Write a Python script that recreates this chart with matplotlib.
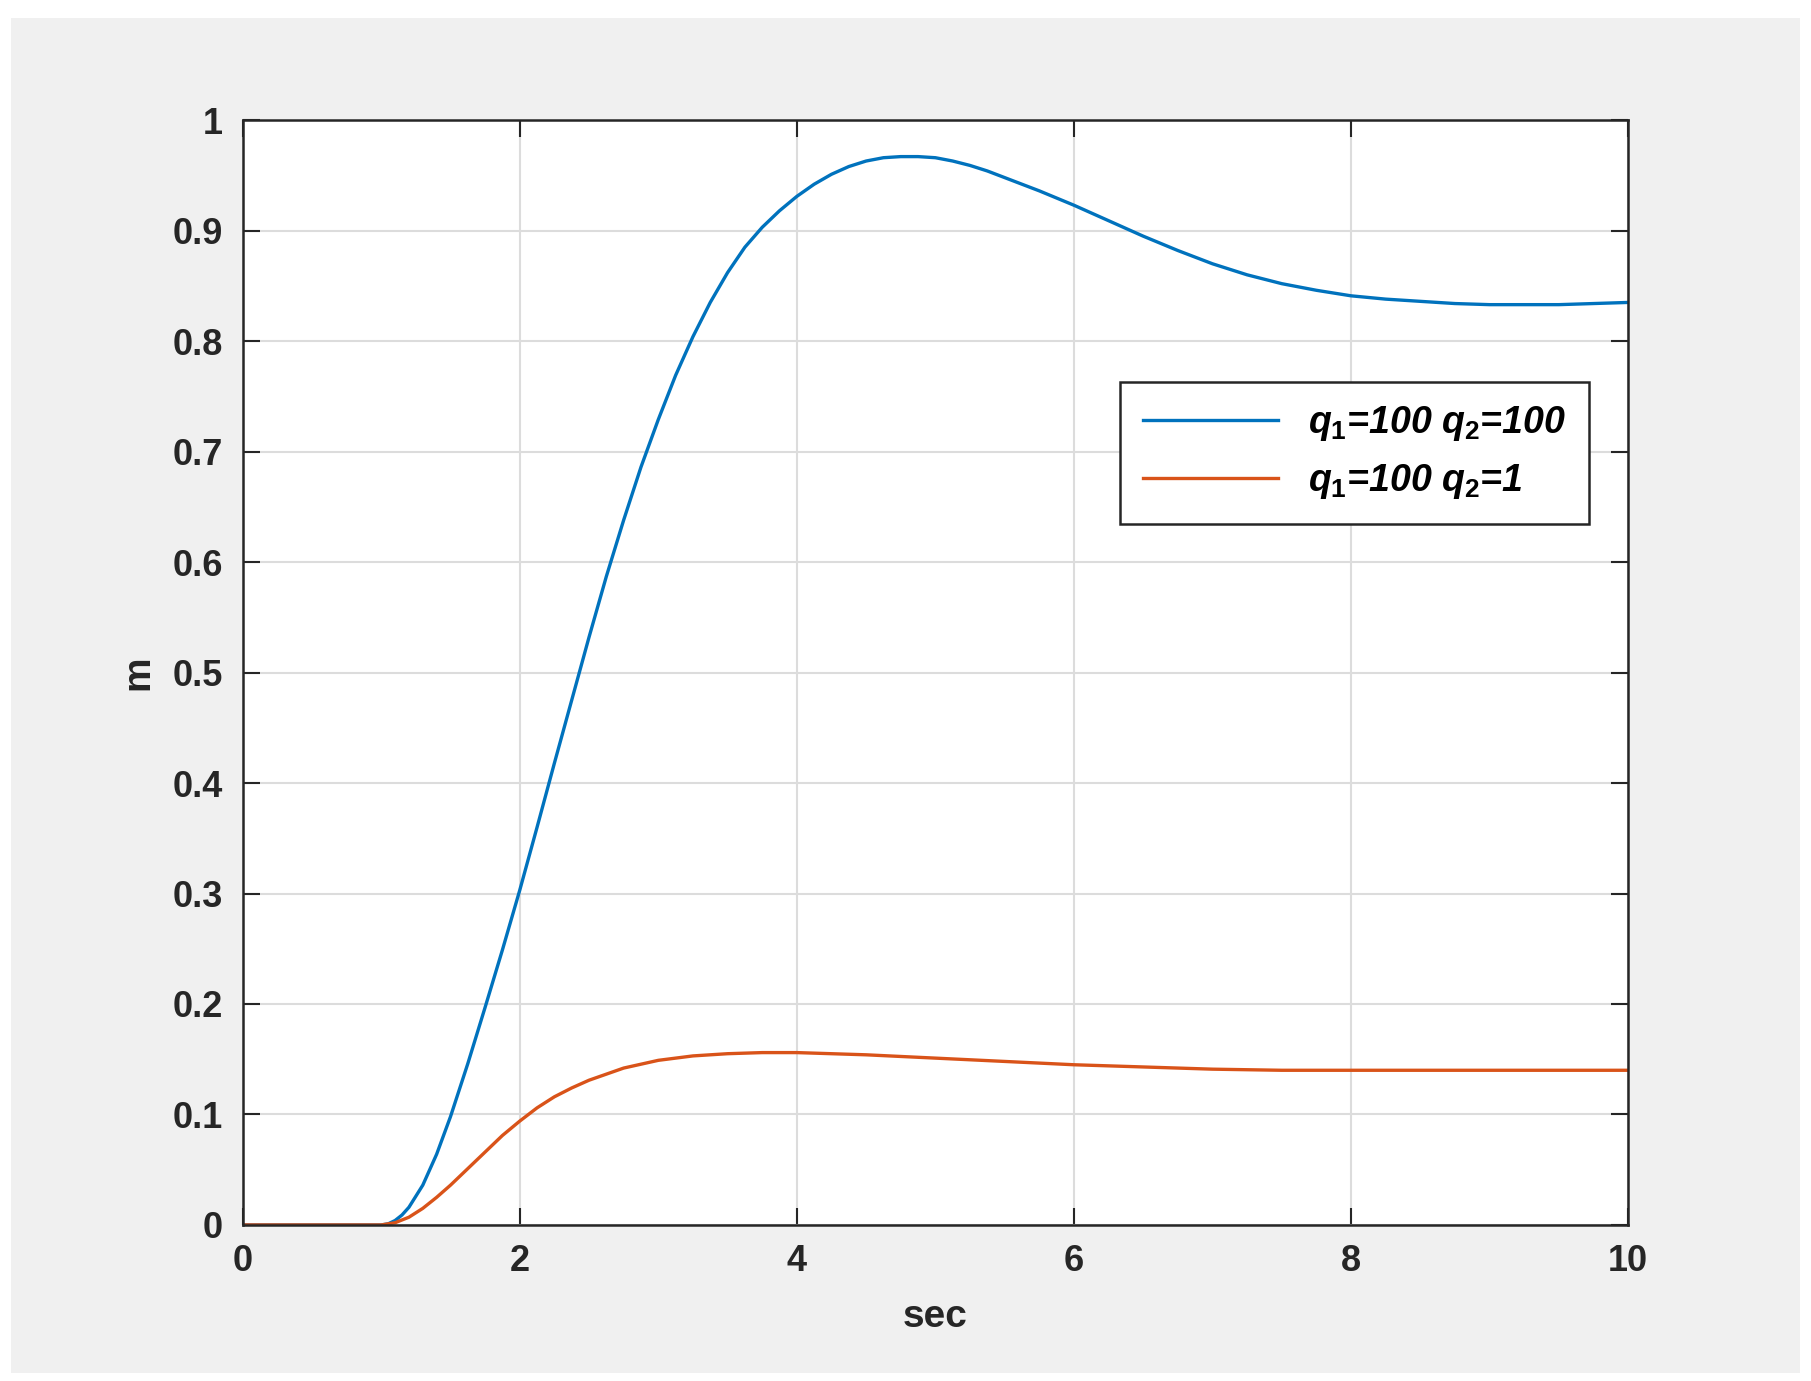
import matplotlib
matplotlib.use("Agg")
import matplotlib.pyplot as plt
from matplotlib.patches import Rectangle

plt.rcParams['font.family'] = ['Liberation Sans', 'DejaVu Sans']
plt.rcParams['mathtext.fontset'] = 'custom'
plt.rcParams['mathtext.it'] = 'Liberation Sans:italic:bold'
plt.rcParams['mathtext.rm'] = 'Liberation Sans:bold'

t_blue = [0, 1.0, 1.05, 1.1, 1.15, 1.2, 1.3, 1.4, 1.5, 1.625, 1.75, 1.875, 2.0, 2.125, 2.25, 2.375, 2.5,
          2.625, 2.75, 2.875, 3.0, 3.125, 3.25, 3.375, 3.5, 3.625, 3.75, 3.875, 4.0, 4.125,
          4.25, 4.375, 4.5, 4.625, 4.75, 4.875, 5.0, 5.125, 5.25, 5.375, 5.5, 5.75, 6.0, 6.25, 6.5, 6.75,
          7.0, 7.25, 7.5, 7.75, 8.0, 8.25, 8.5, 8.75, 9.0, 9.25, 9.5, 9.75, 10.0]
m_blue = [0, 0, 0.001, 0.004, 0.009, 0.016, 0.036, 0.064, 0.098, 0.146, 0.197, 0.249, 0.303, 0.36, 0.418, 0.475, 0.532,
          0.587, 0.638, 0.686, 0.729, 0.769, 0.804, 0.835, 0.862, 0.885, 0.903, 0.918, 0.931, 0.942,
          0.951, 0.958, 0.963, 0.966, 0.967, 0.967, 0.966, 0.963, 0.959, 0.954, 0.948, 0.936, 0.923, 0.909, 0.895, 0.882,
          0.870, 0.860, 0.852, 0.846, 0.841, 0.838, 0.836, 0.834, 0.833, 0.833, 0.833, 0.834, 0.835]
t_orange = [0, 1.0, 1.1, 1.2, 1.3, 1.4, 1.5, 1.625, 1.75, 1.875, 2.0, 2.125, 2.25, 2.375, 2.5, 2.75, 3.0, 3.25,
            3.5, 3.75, 4.0, 4.5, 5.0, 5.5, 6.0, 6.5, 7.0, 7.5, 8.0, 9.0, 10.0]
m_orange = [0, 0, 0.002, 0.007, 0.015, 0.025, 0.036, 0.051, 0.066, 0.081, 0.094, 0.106, 0.116, 0.124, 0.131, 0.142,
            0.149, 0.153, 0.155, 0.156, 0.156, 0.154, 0.151, 0.148, 0.145, 0.143, 0.141, 0.140, 0.140, 0.140, 0.140]

fig = plt.figure(figsize=(18.11, 13.81), dpi=100, facecolor='white')
fig.patches.append(Rectangle((0.006, 0.006), 0.988, 0.981, transform=fig.transFigure,
                             facecolor='#f0f0f0', edgecolor='none', zorder=-10))
ax = fig.add_axes([0.134, 0.113, 0.765, 0.8])
ax.plot(t_blue, m_blue, color='#0072bd', lw=2.4, label=r'$q_1$=100 $q_2$=100')
ax.plot(t_orange, m_orange, color='#d95319', lw=2.4, label=r'$q_1$=100 $q_2$=1')
ax.set_xlim(0, 10)
ax.set_ylim(0, 1)
ax.set_xticks([0, 2, 4, 6, 8, 10])
ax.set_yticks([i / 10 for i in range(11)])
ax.set_yticklabels(['0', '0.1', '0.2', '0.3', '0.4', '0.5', '0.6', '0.7', '0.8', '0.9', '1'])
ax.grid(True, color='#dcdcdc', lw=1.5)
ax.tick_params(labelsize=26, direction='in', length=12, width=1.5, top=True, right=True,
               colors='#262626', pad=14)
for lab in ax.get_xticklabels() + ax.get_yticklabels():
    lab.set_fontweight('bold')
for s in ax.spines.values():
    s.set_color('#262626'); s.set_linewidth(1.8)
ax.set_xlabel('sec', fontsize=28, color='#262626', fontweight='bold', labelpad=14)
ax.set_ylabel('m', fontsize=28, color='#262626', fontweight='bold', labelpad=12)
leg = ax.legend(loc='upper right', bbox_to_anchor=(0.985, 0.78), fancybox=False,
                edgecolor='#262626', framealpha=1, handlelength=3.6, borderpad=0.6,
                prop={'style': 'italic', 'weight': 'bold', 'size': 27})
leg.get_frame().set_linewidth(1.8)
fig.savefig('out.png', dpi=100, facecolor=fig.get_facecolor())
